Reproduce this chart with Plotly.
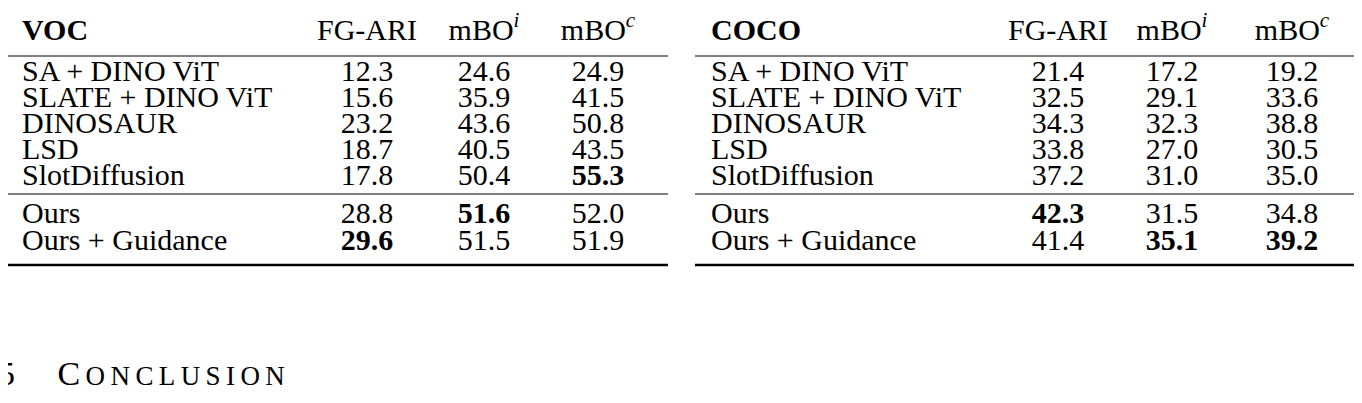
import plotly.graph_objects as go

columns = ["FG-ARI", "mBO<sup><i>i</i></sup>", "mBO<sup><i>c</i></sup>"]
methods = ["SA + DINO ViT", "SLATE + DINO ViT", "DINOSAUR", "LSD", "SlotDiffusion", "Ours", "Ours + Guidance"]
voc_fgari = [12.3, 15.6, 23.2, 18.7, 17.8, 28.8, 29.6]
voc_mboi = [24.6, 35.9, 43.6, 40.5, 50.4, 51.6, 51.5]
voc_mboc = [24.9, 41.5, 50.8, 43.5, 55.3, 52.0, 51.9]
coco_fgari = [21.4, 32.5, 34.3, 33.8, 37.2, 42.3, 41.4]
coco_mboi = [17.2, 29.1, 32.3, 27.0, 31.0, 31.5, 35.1]
coco_mboc = [19.2, 33.6, 38.8, 30.5, 35.0, 34.8, 39.2]

FONT = "Liberation Serif"
FS = 30
row_y = [73, 99, 125, 151, 177, 215, 242]
header_y = 32

fig = go.Figure()

def add_table(title, x0, x1, name_x, col_x, series):
    fig.add_trace(go.Scatter(x=[name_x], y=[header_y], mode="text", text=[f"<b>{title}</b>"],
                             textposition="middle right", textfont=dict(family=FONT, size=FS, color="black")))
    fig.add_trace(go.Scatter(x=col_x, y=[header_y]*3, mode="text", text=columns,
                             textposition="middle center", textfont=dict(family=FONT, size=FS, color="black")))
    fig.add_trace(go.Scatter(x=[name_x]*len(methods), y=row_y, mode="text", text=methods,
                             textposition="middle right", textfont=dict(family=FONT, size=FS, color="black")))
    for cx, vals in zip(col_x, series):
        best = max(vals)
        txt = [f"<b>{v:.1f}</b>" if v == best else f"{v:.1f}" for v in vals]
        fig.add_trace(go.Scatter(x=[cx]*len(vals), y=row_y, mode="text", text=txt,
                                 textposition="middle center", textfont=dict(family=FONT, size=FS, color="black")))
    for y, w in [(2, 2.5), (56, 1.2), (194, 1.2), (265, 2.5)]:
        fig.add_shape(type="line", x0=x0, x1=x1, y0=y, y1=y, line=dict(color="black", width=w))

add_table("VOC", 8, 668, 22, [367, 484, 598], [voc_fgari, voc_mboi, voc_mboc])
add_table("COCO", 695, 1355, 711, [1058, 1172, 1292], [coco_fgari, coco_mboi, coco_mboc])

fig.add_trace(go.Scatter(x=[-2], y=[376], mode="text",
                         text=["5     C<span style='font-size:27px'>\u2009O\u2009N\u2009C\u2009L\u2009U\u2009S\u2009I\u2009O\u2009N</span>"],
                         textposition="middle right", textfont=dict(family=FONT, size=34, color="black")))

fig.update_layout(width=1362, height=403, margin=dict(l=0, r=0, t=0, b=0),
                  paper_bgcolor="white", plot_bgcolor="white", showlegend=False,
                  xaxis=dict(range=[8, 1370], visible=False, fixedrange=True),
                  yaxis=dict(range=[411, 8], visible=False, fixedrange=True))
fig.write_html("out.html")
